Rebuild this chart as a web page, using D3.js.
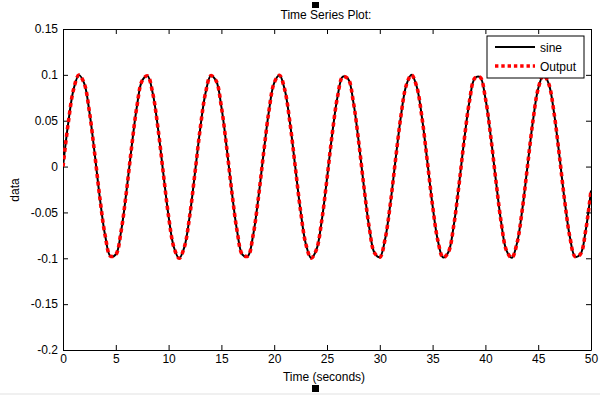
<!DOCTYPE html>
<html>
<head>
<meta charset="utf-8">
<script src="https://cdn.jsdelivr.net/npm/d3@7"></script>
<style>
  body { margin: 0; background: #fff; }
  svg { display: block; font-family: "Liberation Sans", Arial, sans-serif; }
</style>
</head>
<body>
<div id="chart"></div>
<script>
// Values, one sample every 0.5 s
const timeValues = d3.range(0, 101).map(i => i * 0.5);
const sineValues = [
  0.0000, 0.0479, 0.0841, 0.0997, 0.0909, 0.0598, 0.0141, -0.0351, -0.0757, -0.0978,
  -0.0959, -0.0706, -0.0279, 0.0215, 0.0657, 0.0938, 0.0989, 0.0798, 0.0412, -0.0075,
  -0.0544, -0.0880, -0.1000, -0.0875, -0.0537, -0.0066, 0.0420, 0.0804, 0.0991, 0.0935,
  0.0650, 0.0207, -0.0288, -0.0712, -0.0961, -0.0976, -0.0751, -0.0342, 0.0150, 0.0605,
  0.0913, 0.0996, 0.0837, 0.0471, -0.0009, -0.0487, -0.0846, -0.0998, -0.0906, -0.0591,
  -0.0132, 0.0360, 0.0763, 0.0980, 0.0956, 0.0700, 0.0271, -0.0224, -0.0664, -0.0941,
  -0.0988, -0.0793, -0.0404, 0.0084, 0.0551, 0.0884, 0.1000, 0.0870, 0.0529, 0.0057,
  -0.0428, -0.0809, -0.0992, -0.0931, -0.0644, -0.0198, 0.0296, 0.0718, 0.0964, 0.0974,
  0.0745, 0.0334, -0.0159, -0.0612, -0.0917, -0.0995, -0.0832, -0.0463, 0.0018, 0.0495,
  0.0851, 0.0998, 0.0902, 0.0585, 0.0124, -0.0368, -0.0768, -0.0982, -0.0954, -0.0694,
  -0.0262
];
// Output follows the input exactly
const outputValues = sineValues.slice();

const xTicks = [0, 5, 10, 15, 20, 25, 30, 35, 40, 45, 50];
const yTicks = [-0.2, -0.15, -0.1, -0.05, 0, 0.05, 0.1, 0.15];
const seriesNames = ["sine", "Output"];

const width = 600;
const height = 395;
const margin = { top: 29, right: 9, bottom: 45, left: 63 };
const innerW = width - margin.left - margin.right;
const innerH = height - margin.top - margin.bottom;

const svg = d3.select("#chart")
  .append("svg")
  .attr("width", width)
  .attr("height", height);

// light grey strip at the bottom of the window
svg.append("rect")
  .attr("x", 0).attr("y", 393)
  .attr("width", width).attr("height", 2)
  .attr("fill", "#f0f0f0");

const g = svg.append("g")
  .attr("transform", `translate(${margin.left},${margin.top})`);

const x = d3.scaleLinear().domain([0, 50]).range([0, innerW]);
const y = d3.scaleLinear().domain([-0.2, 0.15]).range([innerH, 0]);

const fmt = d => d === 0 ? "0" : String(+d.toFixed(2));

// Axes with inward ticks on all four sides
const axisB = g.append("g")
  .attr("transform", `translate(0,${innerH})`)
  .call(d3.axisBottom(x).tickValues(xTicks).tickFormat(fmt).tickSizeInner(-5).tickSizeOuter(0).tickPadding(4));
const axisT = g.append("g")
  .call(d3.axisTop(x).tickValues(xTicks).tickFormat("").tickSizeInner(-5).tickSizeOuter(0));
const axisL = g.append("g")
  .call(d3.axisLeft(y).tickValues(yTicks).tickFormat(fmt).tickSizeInner(-5).tickSizeOuter(0).tickPadding(5));
const axisR = g.append("g")
  .attr("transform", `translate(${innerW},0)`)
  .call(d3.axisRight(y).tickValues(yTicks).tickFormat("").tickSizeInner(-5).tickSizeOuter(0));

[axisB, axisT, axisL, axisR].forEach(a => {
  a.select(".domain").attr("stroke", "#000").attr("stroke-width", 1);
  a.selectAll(".tick line").attr("stroke", "#000");
  a.selectAll("text").attr("fill", "#000").style("font-size", "12px");
});

// clip the curves to the axes box
g.append("clipPath").attr("id", "clip")
  .append("rect").attr("width", innerW).attr("height", innerH);

const line = d3.line()
  .x((d, i) => x(timeValues[i]))
  .y(d => y(d))
  .curve(d3.curveCatmullRom.alpha(0.5));

g.append("path")
  .datum(sineValues)
  .attr("clip-path", "url(#clip)")
  .attr("fill", "none")
  .attr("stroke", "#000")
  .attr("stroke-width", 2)
  .attr("d", line);

g.append("path")
  .datum(outputValues)
  .attr("clip-path", "url(#clip)")
  .attr("fill", "none")
  .attr("stroke", "#ff0000")
  .attr("stroke-width", 3.6)
  .attr("stroke-dasharray", "4 3.5")
  .attr("d", line);

// Legend
const legend = g.append("g")
  .attr("transform", `translate(${487 - margin.left},${36 - margin.top})`);
legend.append("rect")
  .attr("width", 97).attr("height", 42)
  .attr("fill", "#fff").attr("stroke", "#000").attr("stroke-width", 1);
legend.append("line")
  .attr("x1", 8).attr("x2", 48).attr("y1", 11).attr("y2", 11)
  .attr("stroke", "#000").attr("stroke-width", 2);
legend.append("line")
  .attr("x1", 8).attr("x2", 48).attr("y1", 30).attr("y2", 30)
  .attr("stroke", "#ff0000").attr("stroke-width", 3.4).attr("stroke-dasharray", "3.4 2.9");
legend.selectAll("text.lab")
  .data(seriesNames)
  .enter()
  .append("text")
  .attr("class", "lab")
  .attr("x", 53)
  .attr("y", (d, i) => 15.5 + i * 19)
  .text(d => d)
  .style("font-size", "12px");

// Titles
svg.append("text")
  .attr("x", 326).attr("y", 19)
  .attr("text-anchor", "middle")
  .text("Time Series Plot:")
  .style("font-size", "12px");

svg.append("text")
  .attr("x", 324).attr("y", 381)
  .attr("text-anchor", "middle")
  .text("Time (seconds)")
  .style("font-size", "12px");

svg.append("text")
  .attr("transform", "rotate(-90)")
  .attr("x", -190).attr("y", 19)
  .attr("text-anchor", "middle")
  .text("data")
  .style("font-size", "12px");

// small black handles above the title and below the x label
svg.append("rect").attr("x", 312).attr("y", 2).attr("width", 7).attr("height", 6).attr("fill", "#000");
svg.append("rect").attr("x", 312).attr("y", 385).attr("width", 7).attr("height", 7).attr("fill", "#000");
</script>
</body>
</html>
